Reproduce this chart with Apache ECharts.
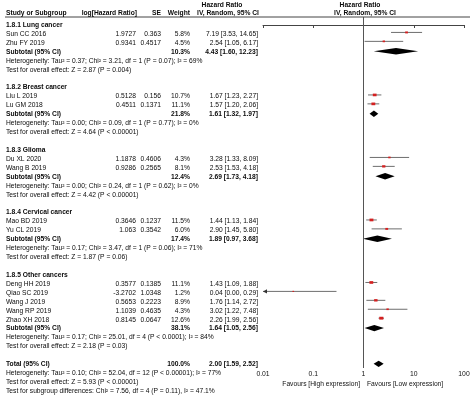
<!DOCTYPE html>
<html><head><meta charset="utf-8">
<script src="https://cdn.jsdelivr.net/npm/echarts@6/dist/echarts.min.js"></script>
<style>html,body{margin:0;padding:0;background:#fff}#c{width:474px;height:395px}</style>
</head><body><div id="c"></div>
<script>
// ---------- data ----------
const subgroupTitles = ["1.8.1 Lung cancer","1.8.2 Breast cancer","1.8.3 Glioma","1.8.4 Cervical cancer","1.8.5 Other cancers"];
const studyNames = ["Sun CC 2016","Zhu FY 2019","Liu L 2019","Lu GM 2018","Du XL 2020","Wang B 2019","Mao BD 2019","Yu CL 2019","Deng HH 2019","Qiao SC 2019","Wang J 2019","Wang RP 2019","Zhao XH 2018"];
const studyGroup = [0,0,1,1,2,2,3,3,4,4,4,4,4];
const logHR = ["1.9727","0.9341","0.5128","0.4511","1.1878","0.9286","0.3646","1.063","0.3577","-3.2702","0.5653","1.1039","0.8145"];
const seText = ["0.363","0.4517","0.156","0.1371","0.4606","0.2565","0.1237","0.3542","0.1385","1.0348","0.2223","0.4635","0.0647"];
const weight = [5.8,4.5,10.7,11.1,4.3,8.1,11.5,6.0,11.1,1.2,8.9,4.3,12.6];
const hr     = [7.19,2.54,1.67,1.57,3.28,2.53,1.44,2.90,1.43,0.04,1.76,3.02,2.26];
const hrLow  = [3.53,1.05,1.23,1.20,1.33,1.53,1.13,1.45,1.09,0.00,1.14,1.22,1.99];
const hrHigh = [14.65,6.17,2.27,2.06,8.09,4.18,1.84,5.80,1.88,0.29,2.72,7.48,2.56];
const subWeight = [10.3,21.8,12.4,17.4,38.1];
const subHR   = [4.43,1.61,2.69,1.89,1.64];
const subLow  = [1.60,1.32,1.73,0.97,1.05];
const subHigh = [12.23,1.97,4.18,3.68,2.56];
const subHet = [
  "Tau² = 0.37; Chi² = 3.21, df = 1 (P = 0.07); I² = 69%",
  "Tau² = 0.00; Chi² = 0.09, df = 1 (P = 0.77); I² = 0%",
  "Tau² = 0.00; Chi² = 0.24, df = 1 (P = 0.62); I² = 0%",
  "Tau² = 0.17; Chi² = 3.47, df = 1 (P = 0.06); I² = 71%",
  "Tau² = 0.17; Chi² = 25.01, df = 4 (P < 0.0001); I² = 84%"];
const subZ = ["Z = 2.87 (P = 0.004)","Z = 4.64 (P < 0.00001)","Z = 4.42 (P < 0.00001)","Z = 1.87 (P = 0.06)","Z = 2.18 (P = 0.03)"];
const totalWeight = 100.0;
const totalHR = 2.00, totalLow = 1.59, totalHigh = 2.52;
const totalHet = "Tau² = 0.10; Chi² = 52.04, df = 12 (P < 0.00001); I² = 77%";
const totalZ = "Z = 5.93 (P < 0.00001)";
const subgroupDiff = "Chi² = 7.56, df = 4 (P = 0.11), I² = 47.1%";
const axisTicks = [0.01, 0.1, 1, 10, 100];
const favoursLeft = "Favours [High expression]";
const favoursRight = "Favours [Low expression]";

// ---------- layout ----------
const W = 474, H = 395;
const FIRST_Y = 25, ROW_H = 8.93;
const HEAD1_Y = 5.5, HEAD2_Y = 13;
const PLOT_TOP = 17, PLOT_BOTTOM_Y = 368, PLOT_LEFT = 263, PLOT_RIGHT_X = 464;
const FONT = '6.7px "Liberation Sans", Arial, sans-serif';
const FONTB = 'bold 6.7px "Liberation Sans", Arial, sans-serif';
const COL = {name: 6, log: 136, se: 161, w: 190, hr: 258};
const fmtCI = (h,l,u) => h.toFixed(2) + " [" + l.toFixed(2) + ", " + u.toFixed(2) + "]";
const toSlot = y => (y - FIRST_Y) / ROW_H;

const texts = [];   // {x, slot, t, align, bold}
const studyMarks = []; // [hr, slot, lo, hi, weight, arrowLeft]
const diamonds = [];  // [hr, slot, lo, hi]
function T(x, slot, t, align, bold){ texts.push({x, slot, t, align: align||'left', bold: !!bold}); }

T(222, toSlot(HEAD1_Y), "Hazard Ratio", 'center', true);
T(360, toSlot(HEAD1_Y), "Hazard Ratio", 'center', true);
T(COL.name, toSlot(HEAD2_Y), "Study or Subgroup", 'left', true);
T(137, toSlot(HEAD2_Y), "log[Hazard Ratio]", 'right', true);
T(COL.se, toSlot(HEAD2_Y), "SE", 'right', true);
T(COL.w, toSlot(HEAD2_Y), "Weight", 'right', true);
T(228, toSlot(HEAD2_Y), "IV, Random, 95% CI", 'center', true);
T(365, toSlot(HEAD2_Y), "IV, Random, 95% CI", 'center', true);

const axisMin = axisTicks[0], axisMax = axisTicks[axisTicks.length-1];
let slot = 0;
subgroupTitles.forEach((title, g) => {
  T(COL.name, slot, title, 'left', true); slot++;
  studyNames.forEach((n, i) => {
    if (studyGroup[i] !== g) return;
    T(COL.name, slot, n);
    T(COL.log, slot, logHR[i], 'right');
    T(COL.se, slot, seText[i], 'right');
    T(COL.w, slot, weight[i].toFixed(1) + "%", 'right');
    T(COL.hr, slot, fmtCI(hr[i], hrLow[i], hrHigh[i]), 'right');
    const lo = Math.max(hrLow[i], axisMin), hi = Math.min(hrHigh[i], axisMax);
    studyMarks.push([hr[i], slot, lo, hi, weight[i], hrLow[i] < axisMin ? 1 : 0]);
    slot++;
  });
  T(COL.name, slot, "Subtotal (95% CI)", 'left', true);
  T(COL.w, slot, subWeight[g].toFixed(1) + "%", 'right', true);
  T(COL.hr, slot, fmtCI(subHR[g], subLow[g], subHigh[g]), 'right', true);
  diamonds.push([subHR[g], slot, subLow[g], subHigh[g]]);
  slot++;
  T(COL.name, slot, "Heterogeneity: " + subHet[g]); slot++;
  T(COL.name, slot, "Test for overall effect: " + subZ[g]); slot++;
  slot++;
});
T(COL.name, slot, "Total (95% CI)", 'left', true);
T(COL.w, slot, totalWeight.toFixed(1) + "%", 'right', true);
T(COL.hr, slot, fmtCI(totalHR, totalLow, totalHigh), 'right', true);
diamonds.push([totalHR, slot, totalLow, totalHigh]);
slot++;
T(COL.name, slot, "Heterogeneity: " + totalHet); slot++;
T(COL.name, slot, "Test for overall effect: " + totalZ); slot++;
T(COL.name, slot, "Test for subgroup differences: " + subgroupDiff); slot++;

const chart = echarts.init(document.getElementById('c'), null, {renderer: 'canvas'});
chart.setOption({
  animation: false,
  backgroundColor: '#fff',
  grid: [
    {left: PLOT_LEFT, right: W - PLOT_RIGHT_X, top: PLOT_TOP, bottom: H - PLOT_BOTTOM_Y},
    {left: 0, right: 0, top: 0, bottom: 0}
  ],
  xAxis: [
    {gridIndex: 0, type: 'log', logBase: 10, min: axisMin, max: axisMax,
     axisLine: {show: true, lineStyle: {color: '#444', width: 1}},
     axisTick: {show: true, length: 3, lineStyle: {color: '#444'}},
     axisLabel: {fontSize: 6.8, fontFamily: '"Liberation Sans", Arial', color: '#111', margin: 3,
       formatter: v => { const t = axisTicks.find(a => Math.abs(Math.log10(a) - Math.log10(v)) < 1e-6); return t === undefined ? '' : String(t); }},
     splitLine: {show: false}},
    {gridIndex: 1, type: 'value', min: 0, max: W, show: false}
  ],
  yAxis: [
    {gridIndex: 0, type: 'value', inverse: true, min: toSlot(PLOT_TOP), max: toSlot(PLOT_BOTTOM_Y), show: false},
    {gridIndex: 1, type: 'value', inverse: true, min: toSlot(0), max: toSlot(H), show: false}
  ],
  graphic: [
    {type: 'line', shape: {x1: 5, y1: PLOT_TOP, x2: 470, y2: PLOT_TOP}, style: {stroke: '#444', lineWidth: 1}},
    {type: 'text', x: 360, y: 384, style: {text: favoursLeft, font: FONT, fill: '#111', textAlign: 'right', textVerticalAlign: 'middle'}},
    {type: 'text', x: 367, y: 384, style: {text: favoursRight, font: FONT, fill: '#111', textAlign: 'left', textVerticalAlign: 'middle'}}
  ],
  series: [
    { // null line at HR = 1
      type: 'line', xAxisIndex: 0, yAxisIndex: 0, data: [], silent: true,
      markLine: {symbol: 'none', silent: true, label: {show: false},
        lineStyle: {color: '#555', width: 1, type: 'solid'}, data: [{xAxis: 1}]}
    },
    { // studies
      type: 'custom', xAxisIndex: 0, yAxisIndex: 0, clip: false,
      data: studyMarks,
      renderItem: (params, api) => {
        const pc = api.coord([api.value(0), api.value(1)]);
        const pl = api.coord([api.value(2), api.value(1)]);
        const ph = api.coord([api.value(3), api.value(1)]);
        const y = pc[1] - 1.5;
        const s = Math.max(1.6, Math.sqrt(api.value(4)) * 1.15);
        const ch = [
          {type: 'line', shape: {x1: pl[0], y1: y, x2: ph[0], y2: y}, style: {stroke: '#6e6e6e', lineWidth: 1}},
          {type: 'rect', shape: {x: pc[0] - s/2, y: y - s*0.35, width: s, height: s*0.7}, style: {fill: '#d42020'}}
        ];
        if (api.value(5)) {
          ch.push({type: 'polygon', shape: {points: [[pl[0], y], [pl[0] + 4, y - 2.2], [pl[0] + 4, y + 2.2]]}, style: {fill: '#333'}});
        }
        return {type: 'group', children: ch};
      }
    },
    { // diamonds
      type: 'custom', xAxisIndex: 0, yAxisIndex: 0, clip: false,
      data: diamonds,
      renderItem: (params, api) => {
        const pc = api.coord([api.value(0), api.value(1)]);
        const pl = api.coord([api.value(2), api.value(1)]);
        const ph = api.coord([api.value(3), api.value(1)]);
        const y = pc[1] - 0.5, h = 3.2;
        return {type: 'polygon', shape: {points: [[pl[0], y], [pc[0], y - h], [ph[0], y], [pc[0], y + h]]}, style: {fill: '#000'}};
      }
    },
    { // table text
      type: 'custom', xAxisIndex: 1, yAxisIndex: 1, clip: false,
      data: texts.map(t => [t.x, t.slot]),
      renderItem: (params, api) => {
        const t = texts[params.dataIndex];
        const p = api.coord([api.value(0), api.value(1)]);
        return {type: 'text', x: p[0], y: p[1],
          style: {text: t.t, font: t.bold ? FONTB : FONT, fill: '#0a0a0a', textAlign: t.align, textVerticalAlign: 'middle'}};
      }
    }
  ]
});
</script></body></html>
